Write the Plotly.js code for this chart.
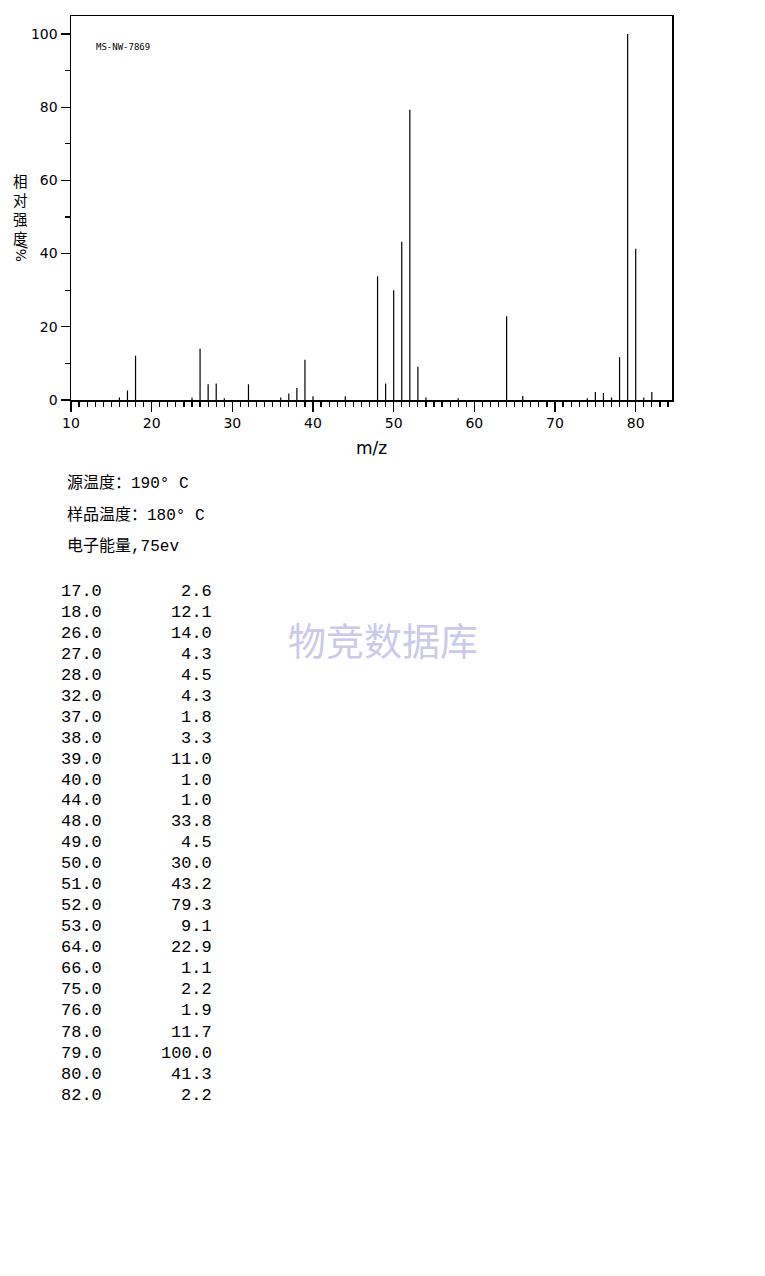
<!DOCTYPE html>
<html>
<head>
<meta charset="utf-8">
<script src="https://cdn.plot.ly/plotly-3.0.1.min.js"></script>
<style>html,body{margin:0;padding:0;background:#fff;}#chart{width:765px;height:1276px;}</style>
</head>
<body>
<div id="chart"></div>
<script>
// Peaks listed in the table
var tableMz = [17, 18, 26, 27, 28, 32, 37, 38, 39, 40, 44, 48, 49, 50, 51, 52, 53, 64, 66, 75, 76, 78, 79, 80, 82];
var tableInt = [2.6, 12.1, 14.0, 4.3, 4.5, 4.3, 1.8, 3.3, 11.0, 1.0, 1.0, 33.8, 4.5, 30.0, 43.2, 79.3, 9.1, 22.9, 1.1, 2.2, 1.9, 11.7, 100.0, 41.3, 2.2];
// Small peaks visible on the spectrum but not in the table (estimated)
var minorMz = [16, 25, 29, 36, 54, 58, 74, 77, 81];
var minorInt = [0.7, 0.7, 0.5, 0.7, 0.7, 0.5, 0.5, 0.7, 0.7];
// Text
var sampleId = "MS-NW-7869";
var infoLines = ["源温度：190° C", "样品温度：180° C", "电子能量,75ev"];
var xTitle = "m/z";
var yTitleChars = "相<br>对<br>强<br>度";
var yTitleUnit = "%/";
var watermark = "物竞数据库";

function stems(mz, inten) {
  var xs = [], ys = [];
  for (var i = 0; i < mz.length; i++) { xs.push(mz[i], mz[i], null); ys.push(0, inten[i], null); }
  return {x: xs, y: ys};
}
var s1 = stems(tableMz, tableInt);
var s2 = stems(minorMz, minorInt);
var traces = [
  {type: 'scatter', mode: 'lines', x: s1.x, y: s1.y, line: {color: '#000', width: 1.2}, hoverinfo: 'skip', showlegend: false},
  {type: 'scatter', mode: 'lines', x: s2.x, y: s2.y, line: {color: '#000', width: 1.2}, hoverinfo: 'skip', showlegend: false}
];

var plotTop = 16, plotBottom = 400, plotH = plotBottom - plotTop;
function py(pix) { return (plotBottom - pix) / plotH; }
var plotLeft = 71, plotRight = 672, plotW = plotRight - plotLeft;
function px(pix) { return (pix - plotLeft) / plotW; }

var ann = [];
ann.push({xref: 'paper', yref: 'paper', x: px(94), y: py(47), xanchor: 'left', yanchor: 'middle', text: sampleId, showarrow: false, font: {family: 'DejaVu Sans Mono', size: 9, color: '#000'}});
ann.push({xref: 'paper', yref: 'paper', x: px(371), y: py(448), xanchor: 'center', yanchor: 'middle', text: xTitle, showarrow: false, font: {family: 'DejaVu Sans', size: 17, color: '#000'}});
ann.push({xref: 'paper', yref: 'paper', x: px(20), y: py(209), xanchor: 'center', yanchor: 'middle', text: yTitleChars, showarrow: false, font: {family: 'Noto Sans CJK SC', size: 14.5, color: '#000'}});
ann.push({xref: 'paper', yref: 'paper', x: px(21), y: py(253), xanchor: 'center', yanchor: 'middle', text: yTitleUnit, textangle: -90, showarrow: false, font: {family: 'DejaVu Sans', size: 14, color: '#000'}});
var infoY = [483, 515, 546];
for (var i = 0; i < infoLines.length; i++) {
  ann.push({xref: 'paper', yref: 'paper', x: px(65), y: py(infoY[i]), xanchor: 'left', yanchor: 'middle', text: infoLines[i], showarrow: false, font: {family: 'Liberation Mono, Noto Sans CJK SC', size: 16, color: '#000'}});
}
for (var j = 0; j < tableMz.length; j++) {
  var yy = py(591 + j * 21);
  ann.push({xref: 'paper', yref: 'paper', x: px(104), y: yy, xanchor: 'right', yanchor: 'middle', text: tableMz[j].toFixed(1), showarrow: false, font: {family: 'Liberation Mono', size: 17, color: '#000'}});
  ann.push({xref: 'paper', yref: 'paper', x: px(214), y: yy, xanchor: 'right', yanchor: 'middle', text: tableInt[j].toFixed(1), showarrow: false, font: {family: 'Liberation Mono', size: 17, color: '#000'}});
}
ann.push({xref: 'paper', yref: 'paper', x: px(383), y: py(638), xanchor: 'center', yanchor: 'middle', text: watermark, showarrow: false, font: {family: 'Noto Sans CJK SC', size: 38, color: 'rgba(195,195,232,0.9)'}});

var layout = {
  width: 765, height: 1276,
  margin: {l: plotLeft, r: 765 - plotRight, t: plotTop, b: 1276 - plotBottom, pad: 0},
  paper_bgcolor: '#fff', plot_bgcolor: '#fff',
  showlegend: false,
  xaxis: {
    range: [10, 84.5], showgrid: false, zeroline: false,
    showline: true, linecolor: '#000', linewidth: 1.5, mirror: true,
    ticks: 'outside', tick0: 10, dtick: 10, ticklen: 10, tickwidth: 1.2, tickcolor: '#000',
    minor: {dtick: 1, tick0: 10, ticks: 'outside', ticklen: 5, tickwidth: 1.2, tickcolor: '#000'},
    tickfont: {family: 'DejaVu Sans', size: 14, color: '#000'}
  },
  yaxis: {
    range: [0, 104.9], showgrid: false, zeroline: false,
    showline: true, linecolor: '#000', linewidth: 1.5, mirror: true,
    ticks: 'outside', tick0: 0, dtick: 20, ticklen: 9, tickwidth: 1.2, tickcolor: '#000',
    minor: {dtick: 10, tick0: 0, ticks: 'outside', ticklen: 5, tickwidth: 1.2, tickcolor: '#000'},
    tickfont: {family: 'DejaVu Sans', size: 14, color: '#000'}
  },
  annotations: ann
};
Plotly.newPlot('chart', traces, layout, {staticPlot: true, displayModeBar: false});
</script>
</body>
</html>
